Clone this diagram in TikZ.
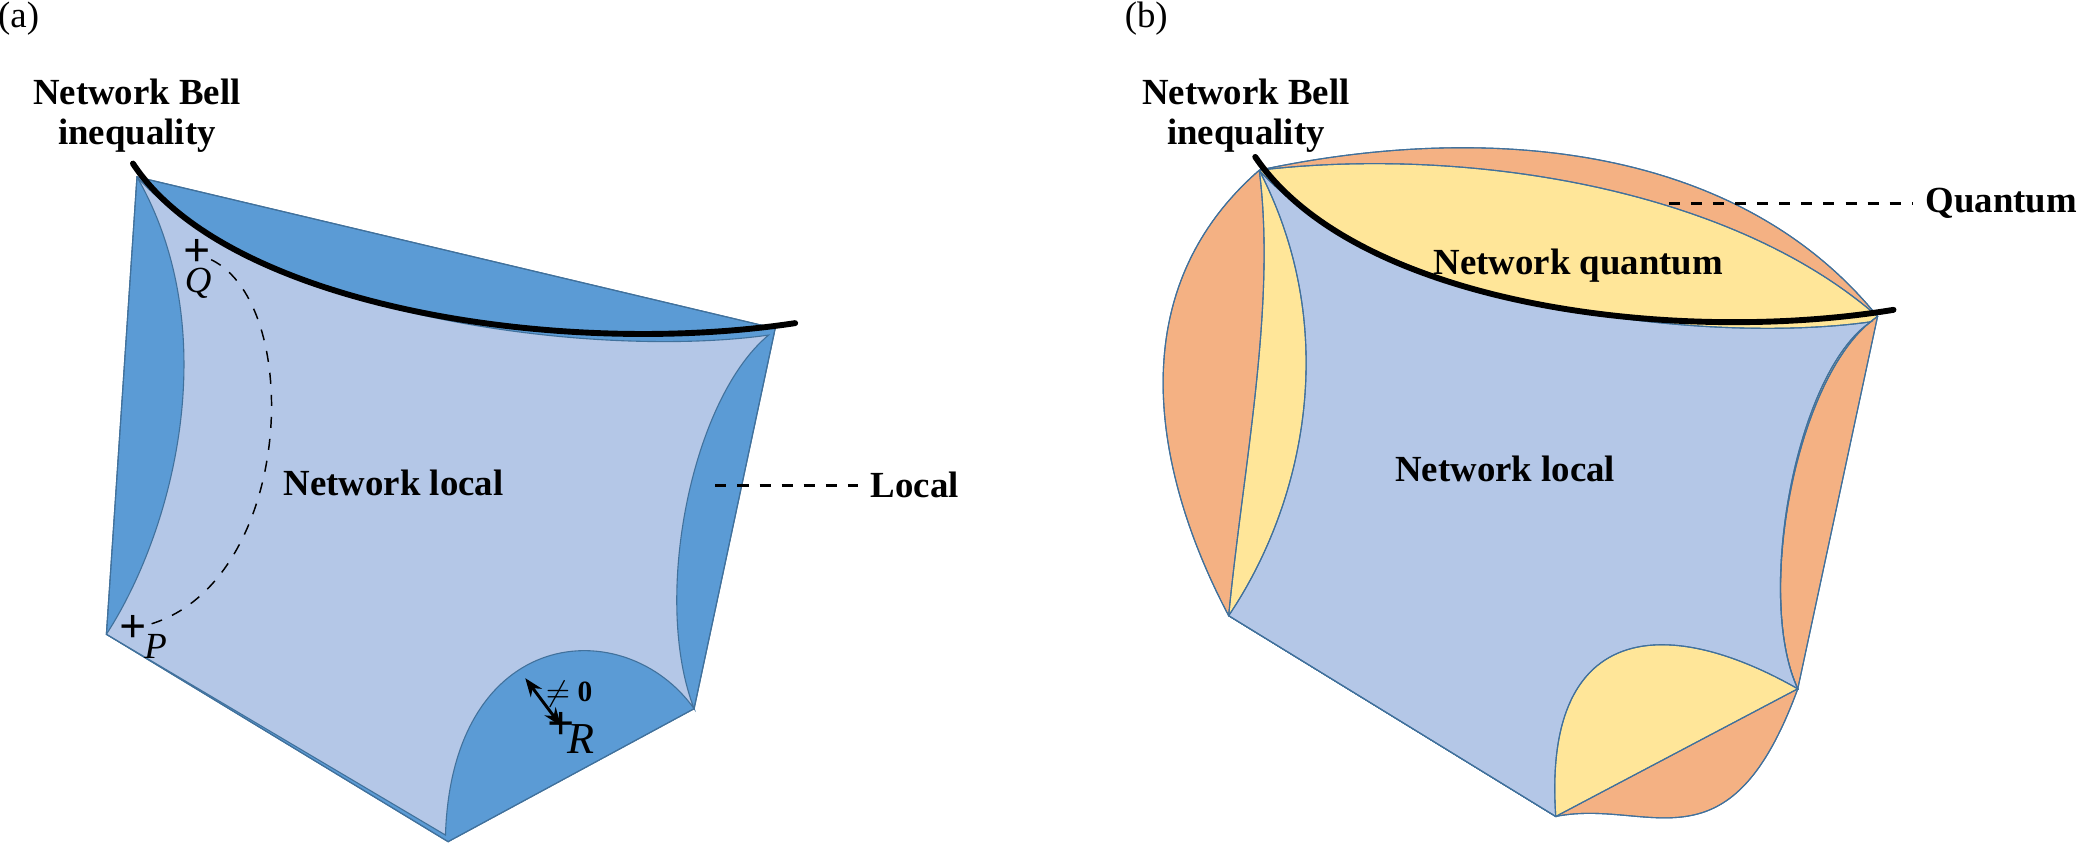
\documentclass[tikz,border=0pt]{standalone}
\usepackage{fontspec}
\setmainfont{Liberation Serif}
\usetikzlibrary{arrows.meta}
\definecolor{darkblue}{HTML}{5B9BD5}
\definecolor{lightblue}{HTML}{B4C7E7}
\definecolor{qorange}{HTML}{F4B183}
\definecolor{qyellow}{HTML}{FFE699}
\definecolor{edgeblue}{HTML}{41719C}
\tikzset{
	region/.style={draw=edgeblue,line width=0.3pt},
	bell/.style={line width=1.6pt,line cap=round},
	lbl/.style={font=\bfseries\fontsize{10}{11}\selectfont,align=center},
	txt/.style={font=\fontsize{10}{11}\selectfont},
	pt/.style={font=\bfseries\fontsize{13}{13}\selectfont,inner sep=0pt}
}
\begin{document}
\begin{tikzpicture}[x=0.0127cm,y=-0.0127cm]
	\useasboundingbox (0,0) rectangle (1568,634);
	%Panel (a)
	\coordinate (aA) at (103,133);
	\coordinate (aB) at (583,247);
	\coordinate (aC) at (522,533);
	\coordinate (aD) at (337,633);
	\coordinate (aE) at (80,477);
	\fill [region,fill=darkblue] (aA) -- (aB) -- (aC) -- (aD) -- (aE) -- cycle;
	\fill [region,fill=lightblue] (aA) .. controls (200,240) and (450,270) .. (578,252)
	.. controls (520,300) and (490,450) .. (aC)
	.. controls (470,460) and (340,470) .. (335,628)
	-- (aE) .. controls (130,400) and (170,250) .. (aA);
	\draw [region] (aA) -- (aB) -- (aC) -- (aD) -- (aE) -- cycle;
	\draw [bell] (100,123) .. controls (170,230) and (420,270) .. (598,243);
	%Points P, Q and R
	\node [pt] (Q) at (148,190) {+};
	\node [txt,font=\itshape\fontsize{10}{11}\selectfont] (Qlbl) at (149,213) {Q};
	\node [pt] (P) at (100,473) {+};
	\node [txt,font=\itshape\fontsize{10}{11}\selectfont] (Plbl) at (117,486) {P};
	\draw [dashed] (Q) .. controls (230,230) and (220,440) .. (P);
	\node [pt] (R) at (422,546) {+};
	\node [txt,font=\itshape\fontsize{12}{12}\selectfont] (Rlbl) at (437,556) {R};
	\coordinate (Redge) at (395,510);
	\draw [{Stealth[length=5pt]}-{Stealth[length=5pt]},line width=0.8pt] (Redge) -- (R.center);
	\node [txt,font=\bfseries\fontsize{8}{8}\selectfont] (neq) at (428,522) {$\neq$ 0};
	%Labels (a)
	\node [txt] (la) at (14,14) {(a)};
	\node [lbl] (bella) at (103,87) {Network Bell\\inequality};
	\node [lbl] (loca) at (296,363) {Network local};
	\node [lbl] (local) at (688,365) {Local};
	\coordinate (lcl) at (538,365);
	\draw [dashed,line width=0.8pt] (lcl) -- (local.west);
	%Panel (b)
	\coordinate (bA) at (947,128);
	\coordinate (bB) at (1412,238);
	\coordinate (bC) at (1352,518);
	\coordinate (bD) at (1170,614);
	\coordinate (bE) at (924,463);
	\fill [region,fill=qorange] (bA) .. controls (1100,95) and (1300,100) .. (bB)
	-- (bC) .. controls (1300,660) and (1240,600) .. (bD)
	-- (bE) .. controls (880,380) and (830,230) .. (bA);
	\draw [region] (bA) .. controls (1100,95) and (1300,100) .. (bB)
	-- (bC) .. controls (1300,660) and (1240,600) .. (bD)
	-- (bE) .. controls (880,380) and (830,230) .. (bA);
	\fill [region,fill=qyellow] (bA) .. controls (1100,110) and (1300,140) .. (bB)
	.. controls (1350,280) and (1320,450) .. (bC)
	-- (bD) -- (bE) .. controls (935,350) and (960,230) .. (bA);
	\draw [region] (bA) .. controls (1100,110) and (1300,140) .. (bB)
	.. controls (1350,280) and (1320,450) .. (bC)
	-- (bD) -- (bE) .. controls (935,350) and (960,230) .. (bA);
	\fill [region,fill=lightblue] (bA) .. controls (1040,230) and (1280,260) .. (1407,242)
	.. controls (1350,280) and (1320,450) .. (bC)
	.. controls (1250,460) and (1160,470) .. (bD)
	-- (bE) .. controls (980,380) and (1010,250) .. (bA);
	\draw [region] (bA) .. controls (1040,230) and (1280,260) .. (1407,242)
	.. controls (1350,280) and (1320,450) .. (bC)
	.. controls (1250,460) and (1160,470) .. (bD)
	-- (bE) .. controls (980,380) and (1010,250) .. (bA);
	\draw [bell] (944,118) .. controls (1020,230) and (1260,260) .. (1424,233);
	%Labels (b)
	\node [txt] (lb) at (862,14) {(b)};
	\node [lbl] (bellb) at (937,87) {Network Bell\\inequality};
	\node [lbl] (quantn) at (1187,200) {Network quantum};
	\node [lbl] (locb) at (1132,353) {Network local};
	\node [lbl] (quant) at (1505,153) {Quantum};
	\coordinate (qnt) at (1255,153);
	\draw [dashed,line width=0.8pt] (qnt) -- (quant.west);
\end{tikzpicture}
\end{document}
